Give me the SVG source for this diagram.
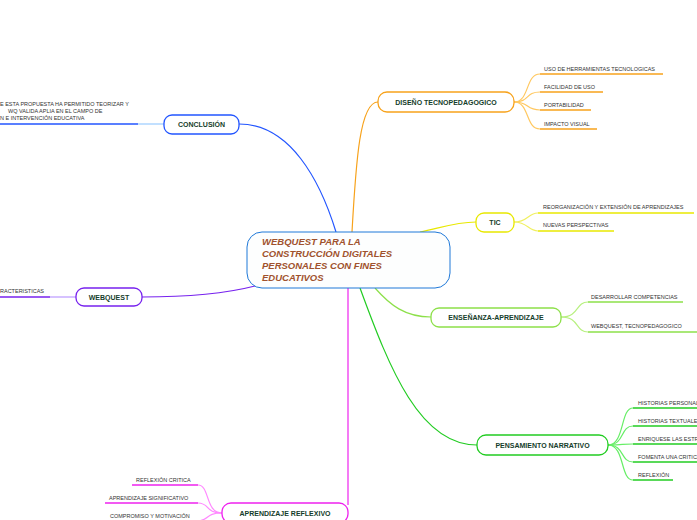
<svg xmlns="http://www.w3.org/2000/svg" width="697" height="520" viewBox="0 0 697 520">
<style>
.n{fill:#fff;stroke-width:1.3}
.nt{font-family:"Liberation Sans",Arial,sans-serif;font-size:7px;font-weight:bold;fill:#153d2b;text-anchor:middle}
.l{font-family:"Liberation Sans",Arial,sans-serif;font-size:5.5px;fill:#333}
.c{fill:none;stroke-width:1.2}
.u{fill:none;stroke-width:1.5}
</style>
<rect width="697" height="520" fill="#fff"/>
<g id="connectors">
<path class="c" stroke="#2255ff" d="M336,232 C320,180 290,124 239,124"/>
<path class="c" stroke="#f7a21b" d="M352,232 C356,160 360,102 378,102"/>
<path class="c" stroke="#e8e800" d="M420,232 C440,228 455,222 476,222"/>
<path class="c" stroke="#8de04a" d="M375,288 C390,305 405,317 431,317"/>
<path class="c" stroke="#22cc22" d="M360,288 C390,370 420,445 477,445"/>
<path class="c" stroke="#7722ee" d="M255,286 C220,295 180,297 142,297"/>
<path class="c" stroke="#ee22ee" d="M348,288 L348,505"/>
<path class="c" stroke="#99ccff" d="M164,124 L138,124"/>
<path class="u" stroke="#2255ff" d="M0,124 L138,124"/>
<path class="c" stroke="#bb99ff" d="M76,297 L50,297"/>
<path class="u" stroke="#7722ee" d="M0,297 L50,297"/>
<g stroke="#ffc860" class="c">
<path d="M514,102 C530,102 525,74 540,74"/><path d="M514,102 C530,102 525,92 540,92"/><path d="M514,102 C530,102 525,110 540,110"/><path d="M514,102 C530,102 525,129 540,129"/>
</g>
<g stroke="#f7a21b" class="u"><path d="M540,74 H663"/><path d="M540,92 H603"/><path d="M540,110 H591"/><path d="M540,129 H597"/></g>
<g stroke="#f0f060" class="c"><path d="M514,222 C528,222 528,213 538,213"/><path d="M514,222 C528,222 528,231 538,231"/></g>
<g stroke="#e8e800" class="u"><path d="M538,213 H694"/><path d="M538,231 H614"/></g>
<g stroke="#b8f080" class="c"><path d="M561,317 C580,317 575,302 588,302"/><path d="M561,317 C580,317 575,332 588,332"/></g>
<g stroke="#8de04a" class="u"><path d="M588,302 H683"/><path d="M588,332 H697"/></g>
<g stroke="#66ee66" class="c">
<path d="M608,445 C625,445 620,408 633,408"/><path d="M608,445 C625,445 620,426 633,426"/><path d="M608,445 C625,445 620,444 633,444"/><path d="M608,445 C625,445 620,462 633,462"/><path d="M608,445 C625,445 620,480 633,480"/>
</g>
<g stroke="#22cc22" class="u"><path d="M633,408 H697"/><path d="M633,426 H697"/><path d="M633,444 H697"/><path d="M633,462 H697"/><path d="M633,480 H673"/></g>
<g stroke="#ff88ff" class="c"><path d="M222,513 C205,513 210,485 198,485"/><path d="M222,513 C205,513 210,503 198,503"/><path d="M222,513 C205,513 210,520 198,521"/></g>
<g stroke="#ee22ee" class="u"><path d="M132,485 H198"/><path d="M105,503 H198"/></g>
</g>
<g id="central"><rect x="247" y="232" width="203" height="56" rx="15" fill="#fdfefe" stroke="#1e78d8" stroke-width="1"/>
<text font-family="Liberation Sans,Arial,sans-serif" font-size="9.5" font-weight="bold" font-style="italic" fill="#a0522d"><tspan x="262" y="245">WEBQUEST PARA LA</tspan><tspan x="262" y="257">CONSTRUCCIÓN DIGITALES</tspan><tspan x="262" y="269">PERSONALES CON FINES</tspan><tspan x="262" y="281">EDUCATIVOS</tspan></text></g>
<g id="conclusion"><rect class="n" x="164" y="115" width="75" height="19" rx="8" stroke="#2255ff"/><text class="nt" x="201.5" y="127">CONCLUSIÓN</text>
<text class="l"><tspan x="0" y="106">E ESTA PROPUESTA HA PERMITIDO TEORIZAR Y</tspan><tspan x="8" y="113">WQ VALIDA APLIA EN EL CAMPO DE</tspan><tspan x="0" y="120">N E INTERVENCIÓN EDUCATIVA</tspan></text></g>
<g id="diseno"><rect class="n" x="378" y="92" width="136" height="20" rx="9" stroke="#f7a21b"/><text class="nt" x="446" y="104.5">DISEÑO TECNOPEDAGOGICO</text>
<text class="l" x="544" y="71">USO DE HERRAMIENTAS TECNOLOGICAS</text><text class="l" x="544" y="89">FACILIDAD DE USO</text><text class="l" x="544" y="107">PORTABILIDAD</text><text class="l" x="544" y="126">IMPACTO VISUAL</text></g>
<g id="tic"><rect class="n" x="476" y="213" width="38" height="19" rx="8" stroke="#e8e800"/><text class="nt" x="495" y="225">TIC</text>
<text class="l" x="543" y="209">REORGANIZACIÓN Y EXTENSIÓN DE APRENDIZAJES</text><text class="l" x="543" y="227">NUEVAS PERSPECTIVAS</text></g>
<g id="ensenanza"><rect class="n" x="431" y="308" width="130" height="19" rx="8" stroke="#8de04a"/><text class="nt" x="496" y="320">ENSEÑANZA-APRENDIZAJE</text>
<text class="l" x="591" y="299">DESARROLLAR COMPETENCIAS</text><text class="l" x="591" y="328">WEBQUEST, TECNOPEDAGOGICO</text></g>
<g id="pensamiento"><rect class="n" x="477" y="435" width="131" height="20" rx="9" stroke="#22cc22"/><text class="nt" x="542.5" y="447.5">PENSAMIENTO NARRATIVO</text>
<text class="l" x="638" y="405">HISTORIAS PERSONALES</text><text class="l" x="638" y="423">HISTORIAS TEXTUALES</text><text class="l" x="638" y="441">ENRIQUESE LAS ESTRATEGIAS</text><text class="l" x="638" y="459">FOMENTA UNA CRITICA</text><text class="l" x="638" y="477">REFLEXIÓN</text></g>
<g id="webquest"><rect class="n" x="76" y="288" width="66" height="18" rx="8" stroke="#7722ee"/><text class="nt" x="109" y="299.5">WEBQUEST</text>
<text class="l" x="0" y="293">RACTERISTICAS</text></g>
<g id="reflexivo"><rect class="n" x="222" y="503" width="126" height="20" rx="9" stroke="#ee22ee"/><text class="nt" x="285" y="515.5">APRENDIZAJE REFLEXIVO</text>
<text class="l" x="136" y="482">REFLEXIÓN CRITICA</text><text class="l" x="109" y="500">APRENDIZAJE SIGNIFICATIVO</text><text class="l" x="110" y="518">COMPROMISO Y MOTIVACIÓN</text></g>
</svg>
